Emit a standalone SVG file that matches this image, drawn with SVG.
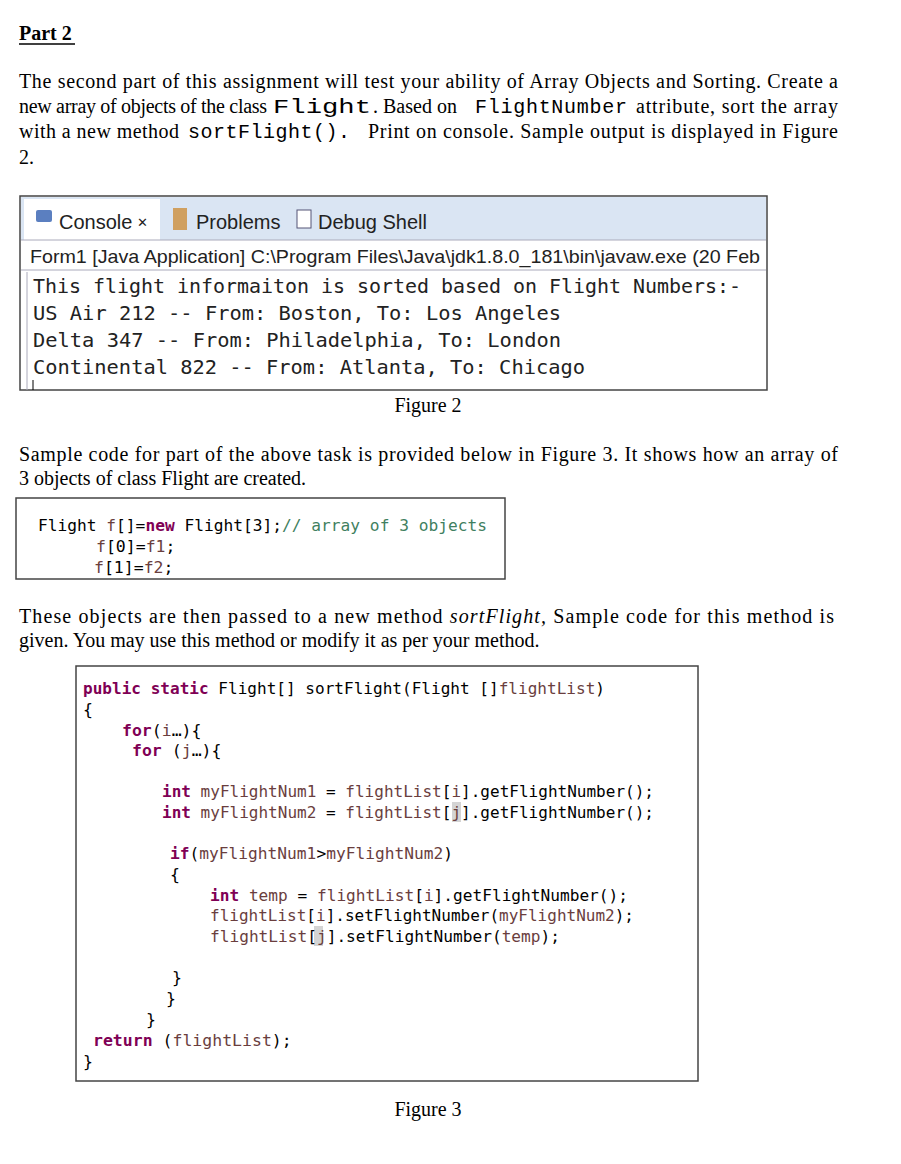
<svg xmlns="http://www.w3.org/2000/svg" width="901" height="1164" viewBox="0 0 901 1164">
<style>
.t{font-family:"Liberation Serif",serif;font-size:20px;fill:#000}
.m{font-family:"Liberation Mono",monospace;font-size:20px;fill:#000}
.c{font-family:"DejaVu Sans Mono",monospace;font-size:20px;fill:#222}
.k{font-family:"DejaVu Sans Mono",monospace;font-size:16.5px;fill:#000}
.kw{fill:#7f0055;font-weight:bold}
.v{fill:#6a3e3e}
.g{fill:#3f7f5f}
.u{font-family:"Liberation Sans",sans-serif;fill:#222}
</style>
<rect width="901" height="1164" fill="#fff"/>
<text class="t" x="19" y="40" font-weight="bold">Part 2</text>
<line x1="19" y1="44" x2="75" y2="44" stroke="#000" stroke-width="1.5"/>
<text class="t" x="19" y="88" textLength="819" lengthAdjust="spacing">The second part of this assignment will test your ability of Array Objects and Sorting. Create a</text>
<text class="t" x="19" y="113" textLength="248" lengthAdjust="spacing">new array of objects of the class</text>
<text class="m" x="273" y="113" textLength="98" lengthAdjust="spacingAndGlyphs">Flight</text>
<text class="t" x="373" y="113">. Based on</text>
<text class="m" x="475" y="113" textLength="152" lengthAdjust="spacing">FlightNumber</text>
<text class="t" x="636" y="113" textLength="202" lengthAdjust="spacing">attribute, sort the array</text>
<text class="t" x="19" y="138" textLength="160" lengthAdjust="spacing">with a new method</text>
<text class="m" x="188" y="138" textLength="162" lengthAdjust="spacing">sortFlight().</text>
<text class="t" x="368" y="138" textLength="470" lengthAdjust="spacing">Print on console. Sample output is displayed in Figure</text>
<text class="t" x="19" y="164">2.</text>

<g id="console">
<rect x="20" y="196" width="747" height="194" fill="#fff" stroke="#444" stroke-width="1.5"/>
<rect x="21" y="197" width="745" height="43" fill="#dae5f3"/>
<rect x="24" y="199" width="136" height="41" fill="#fff"/>
<rect x="36" y="210" width="16" height="12" rx="2" fill="#5b7fc0"/>
<rect x="173" y="208" width="14" height="22" fill="#d0a060"/>
<rect x="297" y="210" width="14" height="18" fill="#fff" stroke="#557" />
<text class="u" x="59" y="229" font-size="20">Console</text>
<text class="u" x="137" y="227" font-size="13" fill="#777">✕</text>
<text class="u" x="196" y="229" font-size="20">Problems</text>
<text class="u" x="318" y="229" font-size="20">Debug Shell</text>
<line x1="21" y1="240" x2="766" y2="240" stroke="#aab" />
<text class="u" x="30" y="263" font-size="19" textLength="730" lengthAdjust="spacingAndGlyphs">Form1 [Java Application] C:\Program Files\Java\jdk1.8.0_181\bin\javaw.exe (20 Feb</text>
<line x1="21" y1="270" x2="766" y2="270" stroke="#aab"/>
<line x1="27" y1="272" x2="27" y2="390" stroke="#aab"/>
<text class="c" x="33" y="293" textLength="708" lengthAdjust="spacingAndGlyphs">This flight informaiton is sorted based on Flight Numbers:-</text>
<text class="c" x="33" y="320" textLength="528" lengthAdjust="spacingAndGlyphs">US Air 212 --  From: Boston, To: Los Angeles</text>
<text class="c" x="33" y="347" textLength="528" lengthAdjust="spacingAndGlyphs">Delta 347 --  From: Philadelphia, To: London</text>
<text class="c" x="33" y="374" textLength="552" lengthAdjust="spacingAndGlyphs">Continental 822 --  From: Atlanta, To: Chicago</text>
<line x1="33" y1="380" x2="33" y2="390" stroke="#000"/>
</g>
<text class="t" x="428" y="412" text-anchor="middle">Figure 2</text>

<text class="t" x="19" y="461" textLength="819" lengthAdjust="spacing">Sample code for part of the above task is provided below in Figure 3. It shows how an array of</text>
<text class="t" x="19" y="485">3 objects of class Flight are created.</text>

<g id="code1">
<rect x="16" y="498" width="489" height="81" fill="#fff" stroke="#444" stroke-width="1.5"/>
<text class="k" x="38" y="531" textLength="449" lengthAdjust="spacingAndGlyphs">Flight <tspan class="v">f</tspan>[]=<tspan class="kw">new</tspan> Flight[3];<tspan class="g">// array of 3 objects</tspan></text>
<text class="k" x="96" y="552"><tspan class="v">f</tspan>[0]=<tspan class="v">f1</tspan>;</text>
<text class="k" x="94" y="573"><tspan class="v">f</tspan>[1]=<tspan class="v">f2</tspan>;</text>
</g>

<text class="t" x="19" y="623" textLength="815" lengthAdjust="spacing">These objects are then passed to a new method <tspan font-style="italic">sortFlight,</tspan> Sample code for this method is</text>
<text class="t" x="19" y="647">given. You may use this method or modify it as per your method.</text>

<g id="code2">
<rect x="76" y="666" width="622" height="415" fill="#fff" stroke="#444" stroke-width="1.5"/>
<rect x="452" y="802" width="9" height="20" fill="#d4d4d4"/>
<rect x="314" y="926" width="9" height="20" fill="#d4d4d4"/>
<text class="k" x="83" y="694" textLength="522" lengthAdjust="spacingAndGlyphs"><tspan class="kw">public static</tspan> Flight[] sortFlight(Flight []<tspan class="v">flightList</tspan>)</text>
<text class="k" x="83" y="715">{</text>
<text class="k" x="122" y="736"><tspan class="kw">for</tspan>(<tspan class="v">i</tspan>…){</text>
<text class="k" x="132" y="756"><tspan class="kw">for</tspan> (<tspan class="v">j</tspan>…){</text>
<text class="k" x="162" y="797" textLength="492" lengthAdjust="spacingAndGlyphs"><tspan class="kw">int</tspan> <tspan class="v">myFlightNum1</tspan> = <tspan class="v">flightList</tspan>[<tspan class="v">i</tspan>].getFlightNumber();</text>
<text class="k" x="162" y="818" textLength="492" lengthAdjust="spacingAndGlyphs"><tspan class="kw">int</tspan> <tspan class="v">myFlightNum2</tspan> = <tspan class="v">flightList</tspan>[<tspan class="v">j</tspan>].getFlightNumber();</text>
<text class="k" x="170" y="859" textLength="283" lengthAdjust="spacingAndGlyphs"><tspan class="kw">if</tspan>(<tspan class="v">myFlightNum1</tspan>&gt;<tspan class="v">myFlightNum2</tspan>)</text>
<text class="k" x="170" y="880">{</text>
<text class="k" x="210" y="901" textLength="418" lengthAdjust="spacingAndGlyphs"><tspan class="kw">int</tspan> <tspan class="v">temp</tspan> = <tspan class="v">flightList</tspan>[<tspan class="v">i</tspan>].getFlightNumber();</text>
<text class="k" x="210" y="921" textLength="424" lengthAdjust="spacingAndGlyphs"><tspan class="v">flightList</tspan>[<tspan class="v">i</tspan>].setFlightNumber(<tspan class="v">myFlightNum2</tspan>);</text>
<text class="k" x="210" y="942" textLength="350" lengthAdjust="spacingAndGlyphs"><tspan class="v">flightList</tspan>[<tspan class="v">j</tspan>].setFlightNumber(<tspan class="v">temp</tspan>);</text>
<text class="k" x="172" y="983">}</text>
<text class="k" x="166" y="1004">}</text>
<text class="k" x="146" y="1025">}</text>
<text class="k" x="93" y="1046"><tspan class="kw">return</tspan> (<tspan class="v">flightList</tspan>);</text>
<text class="k" x="83" y="1067">}</text>
</g>
<text class="t" x="428" y="1116" text-anchor="middle">Figure 3</text>
</svg>
